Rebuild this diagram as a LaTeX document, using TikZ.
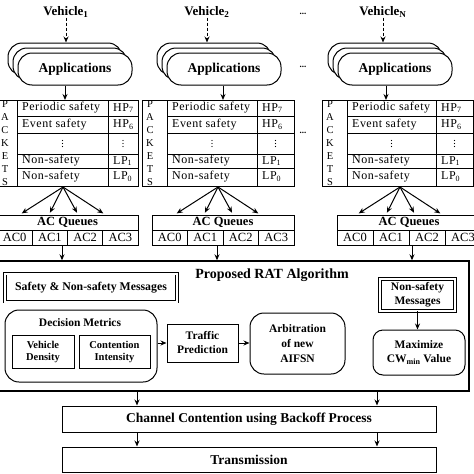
\documentclass[tikz,border=0pt]{standalone}
\usepackage{fontspec}
\setmainfont{Liberation Serif}
\newfontfamily\spacedfont[LetterSpace=4]{Liberation Serif}
\usepackage{tikz}
\usetikzlibrary{arrows.meta,positioning,calc}

\tikzset{
	arr/.style={-{Stealth[length=6pt,width=5pt]},line width=1pt},
	box/.style={draw,line width=1pt,inner sep=1pt,align=center},
	rbox/.style={box,rounded corners=12pt},
	dbox/.style={draw,double,double distance=2pt,line width=0.8pt,inner sep=1pt,align=center},
	appbox/.style={draw,fill=white,line width=1pt,rounded corners=14pt,minimum width=114pt,minimum height=32pt,inner sep=0pt},
	txt/.style={inner sep=0pt,align=center},
	rowtxt/.style={inner sep=0pt,anchor=west,font=\spacedfont\fontsize{12}{14}\selectfont},
}

\begin{document}
\begin{tikzpicture}[x=1pt,y=-1pt]
	\useasboundingbox (0,0) rectangle (474,474);

	% algorithm frame
	\node[box,line width=1.4pt,minimum width=472pt,minimum height=130pt] (rat) at (233,326) {};
	\node[txt,font=\bfseries\fontsize{14}{16}\selectfont] (ratt) at (272,275) {Proposed RAT Algorithm};

	% the vehicles
	\foreach \i/\l/\m/\d/\r/\vx/\ax/\tx/\fx/\ql/\qr/\bx in {1/-3/17/108/138/66/18/65/63/-3/138/62,
		2/142/167/257/294/207/167/223/218/152/294/217,
		N/322/347/436/473/383/338/386/400/337/481/412}{
		\node[txt,font=\bfseries\fontsize{13}{15}\selectfont] (veh\i) at (\vx,12) {Vehicle\textsubscript{\i}};
		\node[appbox] (appc\i) at ({\ax+47},59) {};
		\node[appbox] (appb\i) at ({\ax+52},64) {};
		\node[appbox,font=\bfseries\fontsize{13.5}{15}\selectfont] (app\i) at ({\ax+57},69) {Applications};
		\draw[arr,dash pattern=on 3pt off 2pt] (veh\i.south) -- (veh\i.south |- appc\i.north);
		% packets table
		\coordinate (tt\i) at (\tx,100);
		\draw[arr] (app\i.south -| tt\i) -- (tt\i);
		\draw[line width=1pt] (\l,100) rectangle (\r,186) (\m,100) -- (\m,186) (\d,100) -- (\d,186);
		\foreach \y in {116,133,154,168}
			\draw[line width=1pt] (\m,\y) -- (\r,\y);
		\node[txt,font=\fontsize{10.5}{13}\selectfont] (pk\i) at ({\l+8},143) {P\\A\\C\\K\\E\\T\\S};
		\node[rowtxt] (ps\i) at ({\m+5},108) {Periodic safety};
		\node[rowtxt] (es\i) at ({\m+5},124.5) {Event safety};
		\node[rowtxt] (ns\i) at ({\m+5},161) {Non-safety};
		\node[rowtxt] (nz\i) at ({\m+5},177) {Non-safety};
		\node[rowtxt] (hp\i) at ({\d+5},108) {HP\textsubscript{7}};
		\node[rowtxt] (hq\i) at ({\d+5},124.5) {HP\textsubscript{6}};
		\node[rowtxt] (lp\i) at ({\d+5},161) {LP\textsubscript{1}};
		\node[rowtxt] (lq\i) at ({\d+5},177) {LP\textsubscript{0}};
		% vertical dots in the middle row
		\foreach \dy in {-3,0,3}{
			\fill ({(\m+\d)/2},{143.5+\dy}) circle (0.6pt);
			\fill ({(\d+\r)/2},{143.5+\dy}) circle (0.6pt);
		}
		% AC queues
		\coordinate (fs\i) at (\fx,187);
		\node[box,inner sep=0pt,minimum width={(\qr-(\ql))*1pt},minimum height=15pt,font=\bfseries\fontsize{12.5}{14}\selectfont] (acq\i) at ({(\ql+\qr)/2},222.5) {AC Queues};
		\foreach \o in {-43,-14,15,42}
			\draw[arr,shorten >=2pt] (fs\i) -- ([xshift=\o pt]fs\i |- acq\i.north);
		\foreach \k in {0,...,3}
			\node[box,inner sep=0pt,minimum width={(\qr-(\ql))/4*1pt},minimum height=15pt,font=\fontsize{12.5}{14}\selectfont] (ac\i\k) at ({\ql+(\k+0.5)*(\qr-(\ql))/4},237.5) {AC\k};
		\coordinate (qb\i) at (\bx,245);
		\draw[arr] (qb\i) -- (qb\i |- rat.north);
	}
	\node[txt,font=\bfseries\fontsize{9}{10}\selectfont] (dta) at (303,14) {...};
	\node[txt,font=\bfseries\fontsize{9}{10}\selectfont] (dtb) at (303,67) {...};
	\node[txt,font=\bfseries\fontsize{9}{10}\selectfont] (dtc) at (303,133) {...};

	% inside the algorithm
	\node[dbox,minimum width=172pt,minimum height=28pt,font=\bfseries\fontsize{11.8}{14}\selectfont] (sfm) at (91,287.5) {Safety \& Non-safety Messages};
	\node[dbox,minimum width=75pt,minimum height=32pt,font=\bfseries\fontsize{11.5}{14}\selectfont] (nsm) at (417.5,295) {Non-safety\\Messages};
	\node[rbox,rounded corners=10pt,minimum width=92pt,minimum height=45pt,font=\bfseries\fontsize{11.5}{14}\selectfont] (maxcw) at (419,352.5) {Maximize\\CW\textsubscript{min} Value};
	\node[rbox,rounded corners=14pt,minimum width=152pt,minimum height=72pt] (dm) at (81,346) {};
	\node[txt,font=\bfseries\fontsize{11.5}{14}\selectfont] (dmt) at (80,323) {Decision Metrics};
	\node[box,minimum width=62pt,minimum height=33pt,font=\bfseries\fontsize{10.5}{12}\selectfont] (vd) at (43,351.5) {Vehicle\\Density};
	\node[box,minimum width=71pt,minimum height=33pt,font=\bfseries\fontsize{10.5}{12}\selectfont] (ci) at (114.5,351.5) {Contention\\Intensity};
	\node[box,minimum width=71pt,minimum height=38pt,font=\bfseries\fontsize{11.5}{14}\selectfont] (tp) at (202.5,343) {Traffic\\Prediction};
	\node[rbox,rounded corners=14pt,minimum width=95pt,minimum height=61pt,font=\bfseries\fontsize{11.5}{15}\selectfont] (arb) at (297.5,343.5) {Arbitration\\of new\\AIFSN};
	\draw[arr] (tp.west -| dm.east) -- (tp.west);
	\draw[arr] (tp.east) -- (tp.east -| arb.west);
	\draw[arr] (nsm.south) -- (nsm.south |- maxcw.north);

	% contention and transmission
	\node[box,minimum width=374pt,minimum height=26pt,font=\bfseries\fontsize{13.5}{15}\selectfont] (chan) at (249,419) {Channel Contention using Backoff Process};
	\node[box,minimum width=374pt,minimum height=25pt,font=\bfseries\fontsize{13.5}{15}\selectfont] (trans) at (249,459.5) {Transmission};
	\coordinate (xl) at (137,0);
	\coordinate (xr) at (377,0);
	\draw[arr] (xl |- rat.south) -- (xl |- chan.north);
	\draw[arr] (xr |- rat.south) -- (xr |- chan.north);
	\draw[arr] (xl |- chan.south) -- (xl |- trans.north);
	\draw[arr] (xr |- chan.south) -- (xr |- trans.north);
\end{tikzpicture}
\end{document}
